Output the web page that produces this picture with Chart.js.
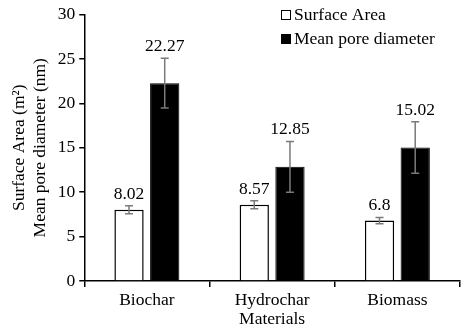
<!DOCTYPE html>
<html>
<head>
<meta charset="utf-8">
<script src="https://cdn.jsdelivr.net/npm/chart.js@4.4.0/dist/chart.umd.min.js"></script>
<style>
  body { margin: 0; background: #fff; }
  #wrap { width: 474px; height: 330px; }
</style>
</head>
<body>
<div id="wrap"><canvas id="chart"></canvas></div>
<script>
var materials = ["Biochar", "Hydrochar", "Biomass"];
var surfaceArea = [8.02, 8.57, 6.8];
var surfaceAreaErr = [0.45, 0.45, 0.35];
var poreDiameter = [22.27, 12.85, 15.02];
var poreDiameterErr = [2.8, 2.85, 2.9];
var yTicks = [0, 5, 10, 15, 20, 25, 30];

var serif = "'Liberation Serif', 'Times New Roman', serif";
Chart.defaults.font.family = serif;
Chart.defaults.color = "#000";

// error bars + value labels drawn on the bar positions
var barExtras = {
  id: "barExtras",
  afterDatasetsDraw: function (chart) {
    var ctx = chart.ctx;
    var yScale = chart.scales.y;
    chart.data.datasets.forEach(function (ds, di) {
      var meta = chart.getDatasetMeta(di);
      meta.data.forEach(function (bar, i) {
        var v = ds.data[i];
        var e = ds.errors[i];
        var top = yScale.getPixelForValue(v + e);
        var bot = yScale.getPixelForValue(v - e);
        ctx.save();
        ctx.strokeStyle = "#7a7a7a";
        ctx.lineWidth = 1.5;
        ctx.beginPath();
        ctx.moveTo(bar.x, top); ctx.lineTo(bar.x, bot);
        ctx.moveTo(bar.x - 4, top); ctx.lineTo(bar.x + 4, top);
        ctx.moveTo(bar.x - 4, bot); ctx.lineTo(bar.x + 4, bot);
        ctx.stroke();
        ctx.fillStyle = "#000";
        ctx.font = "17.5px " + serif;
        ctx.textAlign = "center";
        ctx.textBaseline = "bottom";
        ctx.fillText(String(v), bar.x, top - 3);
        ctx.restore();
      });
    });
  }
};

// legend drawn inside the plot, top right
var innerLegend = {
  id: "innerLegend",
  afterDraw: function (chart) {
    var ctx = chart.ctx;
    var x = 281, y = 15;
    ctx.save();
    ctx.font = "17.5px " + serif;
    ctx.textBaseline = "middle";
    ctx.textAlign = "left";
    chart.data.datasets.forEach(function (ds, di) {
      var yy = y + di * 24;
      ctx.fillStyle = ds.backgroundColor;
      ctx.strokeStyle = "#000";
      ctx.lineWidth = 1;
      ctx.fillRect(x, yy - 4.5, 9, 9);
      ctx.strokeRect(x + 0.5, yy - 4.5, 9, 9);
      ctx.fillStyle = "#000";
      ctx.fillText(ds.label, x + 13, yy);
    });
    ctx.restore();
  }
};

new Chart(document.getElementById("chart"), {
  type: "bar",
  data: {
    labels: materials,
    datasets: [
      {
        label: "Surface Area",
        data: surfaceArea,
        errors: surfaceAreaErr,
        backgroundColor: "#ffffff",
        borderColor: "#000000",
        borderWidth: 1.5
      },
      {
        label: "Mean pore diameter",
        data: poreDiameter,
        errors: poreDiameterErr,
        backgroundColor: "#000000",
        borderColor: "#000000",
        borderWidth: 1
      }
    ]
  },
  options: {
    responsive: true,
    maintainAspectRatio: false,
    animation: false,
    categoryPercentage: 0.57,
    barPercentage: 0.82,
    layout: { padding: { left: 8, right: 14, top: 10, bottom: 0 } },
    plugins: {
      legend: { display: false },
      tooltip: { enabled: false }
    },
    scales: {
      x: {
        grid: { drawOnChartArea: false, tickLength: 6, color: "#000", lineWidth: 1.5 },
        border: { color: "#000", width: 1.5 },
        ticks: { font: { size: 17.5 }, padding: 3 },
        title: { display: true, text: "Materials", font: { size: 17.5 }, padding: { top: -5, bottom: 0 } }
      },
      y: {
        min: 0,
        max: 30,
        afterBuildTicks: function (axis) {
          axis.ticks = yTicks.map(function (v) { return { value: v }; });
        },
        grid: { drawOnChartArea: false, tickLength: 5, color: "#000", lineWidth: 1.5 },
        border: { color: "#000", width: 1.5 },
        ticks: { font: { size: 17.5 }, padding: 4 },
        title: {
          display: true,
          text: ["Surface Area (m\u00b2)", "Mean pore diameter (nm)"],
          font: { size: 17.5, lineHeight: 1.25 },
          padding: { top: 0, bottom: 2 }
        }
      }
    }
  },
  plugins: [barExtras, innerLegend]
});
</script>
</body>
</html>
